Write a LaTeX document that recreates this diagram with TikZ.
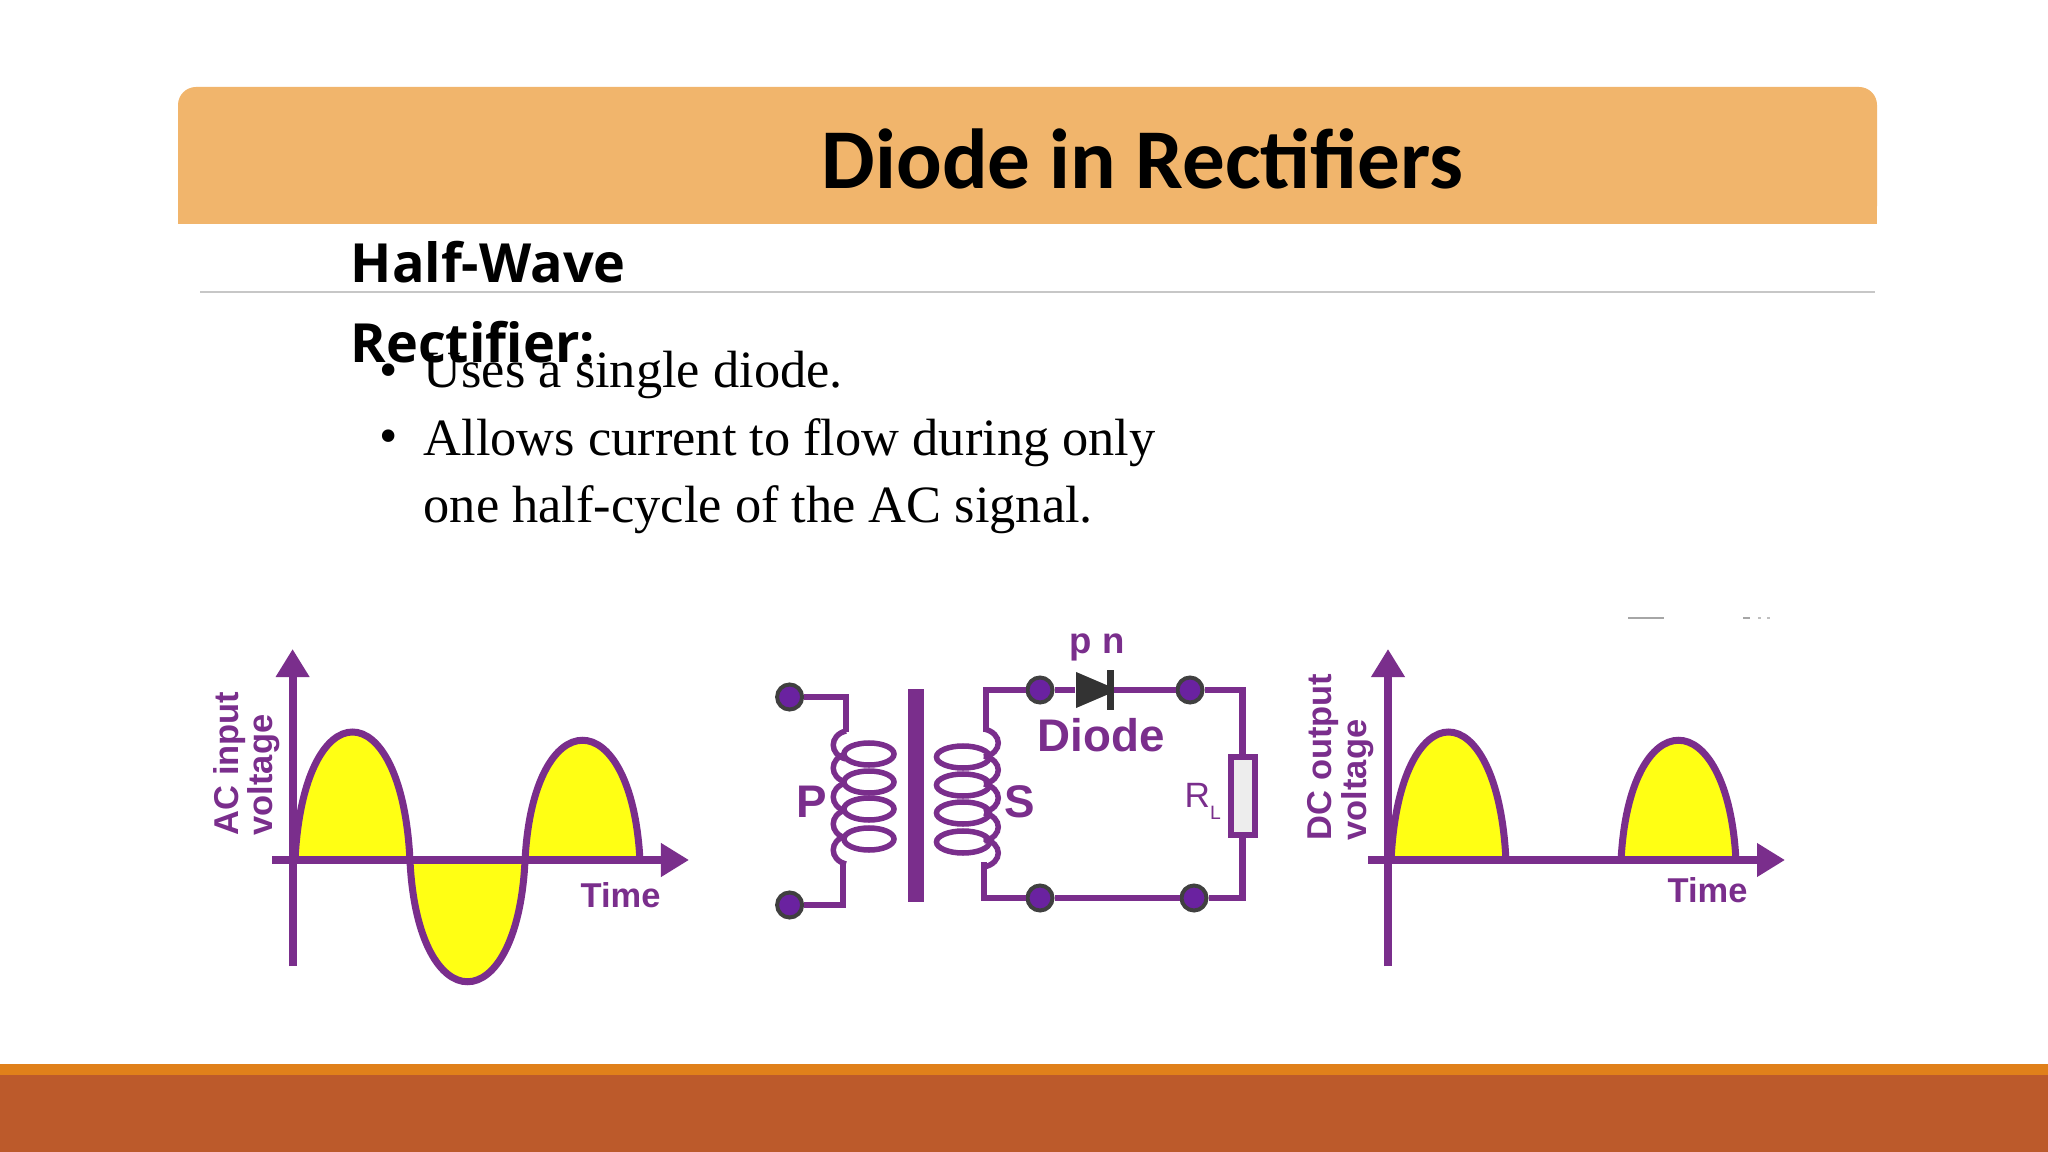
\documentclass[tikz,border=0pt]{standalone}
\usepackage{fontspec}
\usepackage{tikz}
\usetikzlibrary{arrows.meta}
\usetikzlibrary{shapes.geometric}
\setmainfont{Liberation Serif}
\newfontfamily\titlefont{Carlito}[BoldFont={Carlito Bold}]
\newfontfamily\headfont{Open Sans}
\newfontfamily\labelfont{Liberation Sans}
\definecolor{plum}{HTML}{7A2E8C}
\definecolor{headfill}{HTML}{F1B56C}
\definecolor{bandtop}{HTML}{E0801A}
\definecolor{bandlow}{HTML}{BC5A2B}
\definecolor{lobe}{HTML}{FFFF14}
\definecolor{stud}{HTML}{6A22A0}
\tikzset{
    plain/.style={inner sep=0, anchor=base west},
    axisline/.style={draw=plum, line width=.08cm, -{Triangle[length=.28cm,width=.32cm]}},
    lobeline/.style={draw=plum, fill=lobe, line width=.07cm},
    wire/.style={draw=plum, line width=.065cm},
    coil/.style={draw=plum, line width=.055cm},
    term/.style={circle, draw=black!75, fill=stud, line width=.04cm, minimum size=.25cm, inner sep=0},
    plumtext/.style={plain, text=plum, font=\labelfont\bfseries\fontsize{9.8pt}{9.8pt}\selectfont},
    axtext/.style={plumtext, align=left, rotate=90, anchor=south west},
    bodytext/.style={plain, font=\fontsize{14.9pt}{19.2pt}\selectfont},
}
\begin{document}
\begin{tikzpicture}[x=.01cm, y=-.01cm]
        \useasboundingbox (0, 0) rectangle (2048, 1152);
        \fill[white] (0, 0) rectangle (2048, 1152);
        \fill[headfill] (178, 224) [rounded corners=.18cm] -- (178, 87) -- (1877, 87) -- (1877, 224) [sharp corners] -- cycle;
        \fill[headfill] (178, 200) rectangle (1877, 224);
        \draw[black!22, line width=.02cm] (200, 292) -- (1875, 292);
        \fill[bandtop] (0, 1064) rectangle (2048, 1075);
        \fill[bandlow] (0, 1075) rectangle (2048, 1152);
        \node[plain, font=\titlefont\bfseries\fontsize{24.2pt}{24.2pt}\selectfont] (title) at (821, 189) {Diode in Rectifiers};
        \node[plain, align=left, font=\headfont\bfseries\fontsize{15.35pt}{22.8pt}\selectfont] (subhead) at (350, 363) {Half-Wave\\Rectifier:};
        \node[bodytext] (dotA) at (379, 388) {•};
        \node[bodytext] (dotB) at (379, 454) {•};
        \node[bodytext] (itemA) at (423, 388) {Uses a single diode.};
        \node[bodytext, align=left] (itemB) at (423, 523) {Allows current to flow during only\\one half-cycle of the AC signal.};
        \draw[lobeline] (295, 861) .. controls (303, 689) and (402, 689) .. (410, 861);
        \draw[lobeline] (410, 861) .. controls (418, 1022) and (517, 1022) .. (525, 861);
        \draw[lobeline] (525, 861) .. controls (533, 700) and (632, 700) .. (640, 861);
        \coordinate (acBot) at (292.6, 966);
        \coordinate (acTop) at (292.6, 649);
        \coordinate (acLeft) at (272, 860);
        \coordinate (acRight) at (689, 860);
        \draw[axisline] (acBot) -- (acTop);
        \draw[axisline] (acLeft) -- (acRight);
        \node[axtext] (acName) at (281, 836) {AC input\\voltage};
        \node[plumtext] (acTime) at (580, 907) {Time};
        \draw[lobeline] (1391, 861) .. controls (1399, 689) and (1498, 689) .. (1506, 861);
        \draw[lobeline] (1621, 861) .. controls (1629, 700) and (1728, 700) .. (1736, 861);
        \coordinate (dcBot) at (1388, 966);
        \coordinate (dcTop) at (1388, 649);
        \coordinate (dcLeft) at (1368, 860);
        \coordinate (dcRight) at (1785, 860);
        \draw[axisline] (dcBot) -- (dcTop);
        \draw[axisline] (dcLeft) -- (dcRight);
        \node[axtext] (dcName) at (1374, 841) {DC output\\voltage};
        \node[plumtext] (dcTime) at (1667, 902) {Time};
        \draw[black!35, line width=.015cm] (1628, 618) -- (1664, 618);
        \draw[black!35, line width=.015cm] (1743, 618) -- (1750, 618);
        \draw[black!25, line width=.015cm] (1758, 618) -- (1761, 618);
        \draw[black!25, line width=.015cm] (1767, 618) -- (1770, 618);
        \node[term] (ta) at (789.6, 697) {};
        \node[term] (tb) at (789.6, 905) {};
        \coordinate (pTop) at (846, 732);
        \coordinate (pBot) at (843, 862);
        \draw[wire] (ta) -| (pTop);
        \draw[wire] (tb) -| (pBot);
        \foreach \yy in {745, 768, 797, 824, 850}
            \draw[coil] (846, \yy-14) .. controls (829, \yy-10) and (829, \yy+10) .. (846, \yy+14);
        \foreach \yy in {754, 782, 809, 839}
            \draw[coil] (869, \yy) circle [x radius=.25cm, y radius=.11cm];
        \fill[plum] (908, 689) rectangle (924, 902);
        \coordinate (sTop) at (986, 732);
        \coordinate (sBot) at (984, 862);
        \node[term] (sa) at (1040, 690) {};
        \node[term] (sb) at (1190, 690) {};
        \node[term] (sc) at (1040, 898) {};
        \node[term] (sd) at (1194, 898) {};
        \node[isosceles triangle, isosceles triangle stretches, shape border rotate=0, fill=black!80, minimum width=.36cm, minimum height=.42cm, inner sep=0] (dio) at (1088, 690) {};
        \node[rectangle, fill=black!80, minimum width=.07cm, minimum height=.39cm, inner sep=0] (bar) at (1110, 690) {};
        \node[rectangle, draw=plum, fill=black!7, line width=.06cm, minimum width=.24cm, minimum height=.78cm, inner sep=0] (rl) at (1242.5, 796) {};
        \begin{scope}
            \draw[wire] (sTop) |- (sa);
            \draw[wire] (sa) -- (dio);
            \draw[wire] (bar) -- (sb);
            \draw[wire] (sb) -| (rl.north);
            \draw[wire] (rl.south) |- (sd);
            \draw[wire] (sd) -- (sc);
            \draw[wire] (sc) -| (sBot);
        \end{scope}
        \foreach \yy in {743, 770, 798, 827, 853}
            \draw[coil] (984, \yy-14) .. controls (1003, \yy-10) and (1003, \yy+10) .. (984, \yy+14);
        \foreach \yy in {757, 785, 813, 842}
            \draw[coil] (963, \yy) circle [x radius=.265cm, y radius=.11cm];
        \node[plain, text=plum, font=\labelfont\bfseries\fontsize{10.4pt}{10.4pt}\selectfont] (pn) at (1069, 653) {p n};
        \node[plain, text=plum, font=\labelfont\bfseries\fontsize{13pt}{13pt}\selectfont] (dioName) at (1037, 751) {Diode};
        \node[plain, text=plum, font=\labelfont\bfseries\fontsize{13pt}{13pt}\selectfont] (pName) at (796, 817) {P};
        \node[plain, text=plum, font=\labelfont\bfseries\fontsize{13pt}{13pt}\selectfont] (sName) at (1004, 817) {S};
        \node[plain, text=plum, font=\labelfont\fontsize{10pt}{10pt}\selectfont] (rlName) at (1184, 807) {R\raisebox{-3.6pt}{\fontsize{5.5pt}{5.5pt}\selectfont L}};
\end{tikzpicture}
\end{document}
